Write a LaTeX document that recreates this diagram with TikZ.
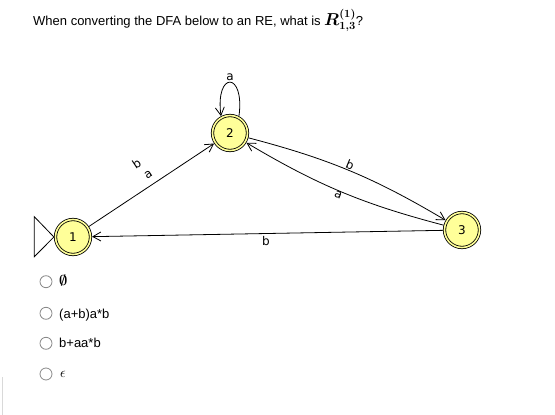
\documentclass[tikz,border=0pt]{standalone}
\usepackage{amsmath}
\usepackage{fontspec}
\setmainfont{Liberation Sans}
\newfontfamily\jfont{DejaVu Sans}
\usetikzlibrary{arrows.meta}
\definecolor{statefill}{RGB}{255,255,153}
\definecolor{radiogray}{RGB}{138,138,138}
\tikzset{
  state/.style={circle, draw=black, line width=0.8pt, double=statefill, double distance=1.6pt,
    fill=statefill, minimum size=35pt, inner sep=0pt, outer sep=1.6pt,
    font=\jfont\fontsize{12}{14}\selectfont},
  edge/.style={draw=black, line width=0.8pt, -{Straight Barb[length=8pt,width=9pt,line width=0.8pt]}},
  elabel/.style={font=\jfont\fontsize{12}{14}\selectfont, inner sep=0pt},
  qtext/.style={anchor=base west, inner sep=0pt, font=\fontsize{13}{15}\selectfont},
  radio/.style={circle, draw=radiogray, line width=0.8pt, fill=white, minimum size=12pt, inner sep=0pt}
}
\begin{document}
\begin{tikzpicture}[x=1pt,y=1pt]
\useasboundingbox (0,0) rectangle (555,415);
\fill[white] (0,0) rectangle (555,415);
\draw[gray!30, line width=0.8pt] (2,0) -- (2,38);

% question
\node[qtext] (q) at (33,389) {When converting the DFA below to an RE, what is};
\node[qtext] (qr) at (324,389) {\fontsize{16}{18}\selectfont$\boldsymbol{R^{(1)}_{1,3}}$\fontsize{13}{15}\selectfont ?};

% states
\node[state] (n1) at (73,178) {1};
\node[state] (n2) at (230,282) {2};
\node[state] (n3) at (462,185) {3};

% initial triangle
\coordinate (t1) at (34.3,198.3);
\coordinate (t2) at (34.3,158.3);
\draw[line width=0.8pt, fill=white] (t1) -- (n1.west) -- (t2) -- cycle;

% edges
\draw[edge] (n1) -- (n2);
\draw[edge] (n2) to[bend left=8] (n3);
\draw[edge] (n3) to[bend left=8] (n2);
\draw[edge] (n3) -- (n1);
\draw[edge] (n2.62) .. controls (245,344) and (215,344) .. (n2.118);

% edge labels
\node[elabel, rotate=33.5] (l12b) at (136.7,251) {b};
\node[elabel, rotate=33.5] (l12a) at (148.3,240) {a};
\node[elabel] (l22) at (230,338) {a};
\node[elabel, rotate=-22.7] (l23) at (350,250) {b};
\node[elabel, rotate=-22.7] (l32) at (338.3,220) {a};
\node[elabel] (l31) at (266,174) {b};

% options
\node[radio] (r1) at (46,133.3) {};
\node[radio] (r2) at (46,101.7) {};
\node[radio] (r3) at (46,71.7) {};
\node[radio] (r4) at (46,41) {};
\node[qtext] (o1) at (59,129.5) {\fontsize{15}{17}\selectfont$\boldsymbol{\emptyset}$};
\node[qtext] (o2) at (59,96.7) {(a+b)a*b};
\node[qtext] (o3) at (59,67.5) {b+aa*b};
\node[qtext] (o4) at (60,37.7) {\fontsize{15}{17}\selectfont$\epsilon$};
\end{tikzpicture}
\end{document}
